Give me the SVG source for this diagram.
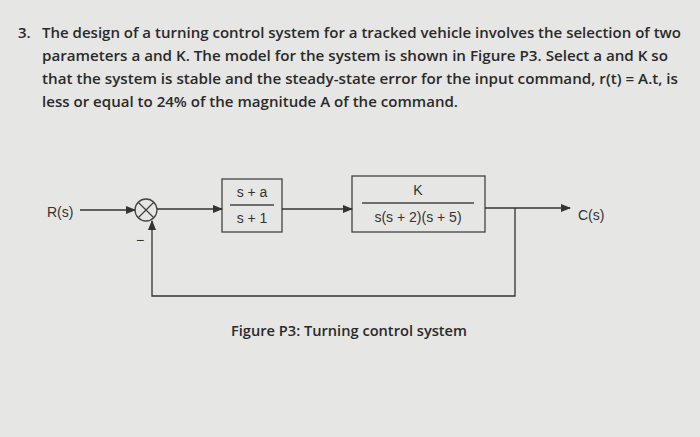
<svg xmlns="http://www.w3.org/2000/svg" width="700" height="437" viewBox="0 0 700 437">
<defs>
<marker id="ar" markerWidth="10" markerHeight="8" refX="9" refY="4" orient="auto" markerUnits="userSpaceOnUse"><path d="M0,0 L10,4 L0,8 z" fill="#333"/></marker>
<style>
.h{font-family:"Open Sans","Liberation Sans",sans-serif;font-size:15px;font-weight:600;fill:#2a2a2a}
.t{font-family:"Liberation Sans",sans-serif;font-size:14px;fill:#333}
.b{fill:none;stroke:#444;stroke-width:1.3}
.c{fill:none;stroke:#333;stroke-width:1.3}
</style>
</defs>
<rect width="700" height="437" fill="#e6e6e4"/>
<g id="text">
<text class="h" x="18" y="38">3.</text>
<text class="h" x="42" y="38" textLength="639" lengthAdjust="spacingAndGlyphs">The design of a turning control system for a tracked vehicle involves the selection of two</text>
<text class="h" x="42" y="61" textLength="626" lengthAdjust="spacingAndGlyphs">parameters a and K. The model for the system is shown in Figure P3. Select a and K so</text>
<text class="h" x="42" y="84" textLength="636" lengthAdjust="spacingAndGlyphs">that the system is stable and the steady-state error for the input command, r(t) = A.t, is</text>
<text class="h" x="42" y="107" textLength="416" lengthAdjust="spacingAndGlyphs">less or equal to 24% of the magnitude A of the command.</text>
<text class="h" x="231" y="336" textLength="236" lengthAdjust="spacingAndGlyphs">Figure P3: Turning control system</text>
</g>
<g id="sum">
<circle class="b" cx="146" cy="210" r="11"/>
<path class="b" d="M138.2,202.2 L153.8,217.8 M153.8,202.2 L138.2,217.8"/>
<text class="t" x="136" y="245">−</text>
</g>
<g id="G1">
<rect class="b" x="222" y="179" width="60" height="53"/>
<text class="t" x="252" y="197" text-anchor="middle">s + a</text>
<line class="b" x1="230" y1="205" x2="274" y2="205"/>
<text class="t" x="252" y="223" text-anchor="middle">s + 1</text>
</g>
<g id="G2">
<rect class="b" x="352" y="176" width="133" height="56"/>
<text class="t" x="418" y="195" text-anchor="middle">K</text>
<line class="b" x1="362" y1="203" x2="474" y2="203"/>
<text class="t" x="418" y="222" text-anchor="middle">s(s + 2)(s + 5)</text>
</g>
<g id="labels">
<text class="t" x="47" y="217">R(s)</text>
<text class="t" x="578" y="220">C(s)</text>
</g>
<g id="connectors">
<line class="c" x1="80" y1="210" x2="135" y2="210" marker-end="url(#ar)"/>
<line class="c" x1="157" y1="209" x2="222" y2="209" marker-end="url(#ar)"/>
<line class="c" x1="282" y1="209" x2="352" y2="209" marker-end="url(#ar)"/>
<line class="c" x1="485" y1="208" x2="570" y2="208" marker-end="url(#ar)"/>
<polyline class="c" points="515,208 515,296 152,296 152,221" marker-end="url(#ar)"/>
</g>
</svg>
